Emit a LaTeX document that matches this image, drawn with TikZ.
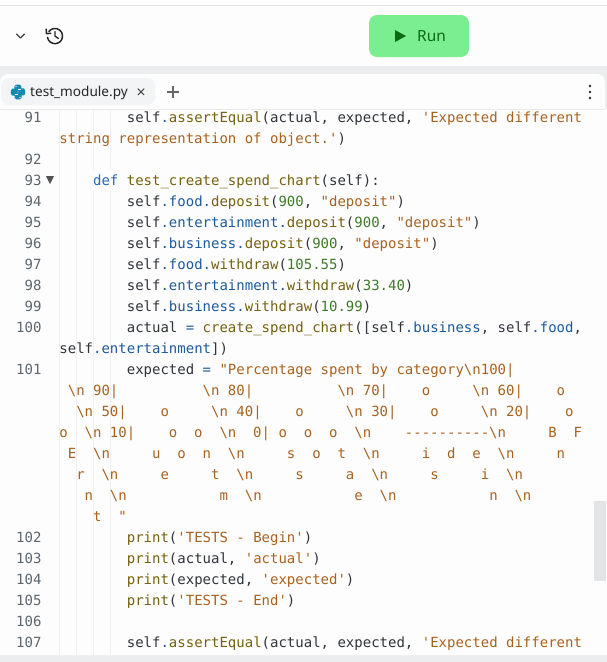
\documentclass[tikz,border=0pt]{standalone}
\usepackage{fontspec}
\setmainfont{Noto Sans}
\setmonofont{DejaVu Sans Mono}
\definecolor{pagebg}{HTML}{FDFDFD}
\definecolor{bandgray}{HTML}{EBEDEF}
\definecolor{topline}{HTML}{E4E4E4}
\definecolor{tabbg}{HTML}{F2F4F6}
\definecolor{guide}{HTML}{F0F0F0}
\definecolor{lnum}{HTML}{5B6670}
\definecolor{cplain}{HTML}{30343A}
\definecolor{cblue}{HTML}{1D5A9C}
\definecolor{cdef}{HTML}{2468B8}
\definecolor{cfn}{HTML}{75610F}
\definecolor{cnum}{HTML}{3F7A2A}
\definecolor{cstr}{HTML}{A8621F}
\definecolor{runbg}{HTML}{7CEE92}
\definecolor{rundark}{HTML}{0A6B12}
\definecolor{pylogo}{HTML}{1289AE}
\definecolor{scroll}{HTML}{E3E4E6}
\newcommand\Kf[1]{\textcolor{cfn}{#1}}
\newcommand\Kp[1]{\textcolor{cblue}{#1}}
\newcommand\Kn[1]{\textcolor{cnum}{#1}}
\newcommand\Ks[1]{\textcolor{cstr}{#1}}
\newcommand\Kd[1]{\textcolor{cdef}{#1}}
\newcommand\Nl{\textbackslash n}
\newcommand\Sf{self\Kp{.}}
\newcommand\codeline[3]{\node[codetext] at ({59.4+#1*8.43},{122+#2*21}) {#3};}
\newcommand\lno[2]{\node[numtext] at (41.5,{122+#1*21}) {#2};}
\tikzset{
  codetext/.style={anchor=base west,inner sep=0pt,outer sep=0pt,font=\ttfamily\fontsize{14}{14}\selectfont,text=cplain},
  numtext/.style={anchor=base east,inner sep=0pt,outer sep=0pt,font=\ttfamily\fontsize{14}{14}\selectfont,text=lnum},
  iconline/.style={draw=#1,line width=1.5pt,line cap=round,line join=round,fill=none},
  guideline/.style={draw=guide,line width=1pt}
}
\begin{document}
\begin{tikzpicture}[x=1pt,y=-1pt]
\useasboundingbox (0,0) rectangle (607,662);
\clip (0,0) rectangle (607,662);
\fill[pagebg] (0,0) rectangle (607,662);
\fill[white] (0,0) rectangle (607,4.5);
\fill[topline] (0,4.5) rectangle (607,6);
% bands
\fill[bandgray] (0,66) rectangle (607,662);
\fill[pagebg] (0,655) -- (0,82) arc[start angle=180,end angle=270,radius=8] -- (597,74) arc[start angle=270,end angle=360,radius=8] -- (605,655) -- cycle;
\fill[pagebg] (605,109) rectangle (607,655);
% header
\draw[iconline=black!75,line width=1.2pt] (16.5,34) -- (20.5,38) -- (24.5,34);
\draw[iconline=black!85] (48.9,31.5) arc[start angle=-143,end angle=170,radius=7.6];
\draw[iconline=black!85] (46.2,29.2) -- (46.4,33.6) -- (50.8,33.4);
\draw[iconline=black!85,line width=1.3pt] (55,31.5) -- (55,36.2) -- (58.5,38.5);
\fill[runbg,rounded corners=8pt] (369,15) rectangle (469,57);
\fill[rundark] (395,30) -- (406,36) -- (395,42) -- cycle;
\node[anchor=base west,inner sep=0pt,text=rundark,font=\fontsize{15.4}{16}\selectfont] (runlabel) at (417,41.5) {Run};
% tabs
\fill[tabbg,rounded corners=8pt] (1,78) rectangle (155,105);
\draw[draw=black!8,line width=1pt] (0,109) -- (605,109);
\begin{scope}[shift={(18,92)}]
  \fill[pylogo,rounded corners=1.6pt] (-3.6,-7.4) rectangle (3.4,-0.6);
  \fill[pylogo,rounded corners=1.6pt] (-7.2,-3.4) rectangle (-0.3,3.6);
  \fill[pylogo,rounded corners=1.6pt] (-3.4,0.6) rectangle (3.6,7.4);
  \fill[pylogo,rounded corners=1.6pt] (0.3,-3.6) rectangle (7.2,3.4);
  \fill[tabbg] (-0.2,-3.2) rectangle (3.4,-2.2);
  \fill[tabbg] (-3.4,2.2) rectangle (0.2,3.2);
  \fill[tabbg] (-2,-5.6) circle (0.7);
  \fill[tabbg] (2,5.6) circle (0.7);
\end{scope}
\node[anchor=base west,inner sep=0pt,text=black!85,font=\fontsize{13.6}{15}\selectfont] (tabname) at (30,96) {test\_module.py};
\draw[iconline=black!70,line width=1.1pt] (138,88.8) -- (144,94.8);
\draw[iconline=black!70,line width=1.1pt] (144,88.8) -- (138,94.8);
\draw[iconline=black!60,line width=1.4pt,line cap=butt] (167,92) -- (179,92);
\draw[iconline=black!60,line width=1.4pt,line cap=butt] (173,86) -- (173,98);
\foreach \dy in {86,92,98} \fill[black!85] (590,\dy) circle (1.4);
% indent guides
\foreach \gx in {59.5,76.5,93.3,110} \draw[guideline] (\gx,110) -- (\gx,655);
\fill[pagebg] (92.5,170) rectangle (111,190);
% fold marker
\fill[black!68] (46,176) -- (54,176) -- (50,184) -- cycle;
% scrollbar
\fill[scroll] (594,501) rectangle (606,581);
% line numbers
\lno{0}{91}\lno{2}{92}\lno{3}{93}\lno{4}{94}\lno{5}{95}\lno{6}{96}\lno{7}{97}\lno{8}{98}\lno{9}{99}\lno{10}{100}\lno{12}{101}
\lno{20}{102}\lno{21}{103}\lno{22}{104}\lno{23}{105}\lno{24}{106}\lno{25}{107}
% code
\codeline{8}{0}{\Sf\Kf{assertEqual}(actual, expected, \Ks{'Expected different}}
\codeline{0}{1}{\Ks{string representation of object.'})}
\codeline{4}{3}{\Kd{def} \Kf{test\_create\_spend\_chart}(self):}
\codeline{8}{4}{\Sf\Kp{food}\Kp{.}\Kf{deposit}(\Kn{900}, \Ks{"deposit"})}
\codeline{8}{5}{\Sf\Kp{entertainment}\Kp{.}\Kf{deposit}(\Kn{900}, \Ks{"deposit"})}
\codeline{8}{6}{\Sf\Kp{business}\Kp{.}\Kf{deposit}(\Kn{900}, \Ks{"deposit"})}
\codeline{8}{7}{\Sf\Kp{food}\Kp{.}\Kf{withdraw}(\Kn{105.55})}
\codeline{8}{8}{\Sf\Kp{entertainment}\Kp{.}\Kf{withdraw}(\Kn{33.40})}
\codeline{8}{9}{\Sf\Kp{business}\Kp{.}\Kf{withdraw}(\Kn{10.99})}
\codeline{8}{10}{actual \Kp{=} \Kf{create\_spend\_chart}([\Sf\Kp{business}, \Sf\Kp{food},}
\codeline{0}{11}{\Sf\Kp{entertainment}])}
\codeline{8}{12}{expected \Kp{=} \Ks{"Percentage spent by category\Nl 100|}}
\codeline{0}{13}{\Ks{~\Nl{}~90|~~~~~~~~~~\Nl{}~80|~~~~~~~~~~\Nl{}~70|~~~~o~~~~~\Nl{}~60|~~~~o}}
\codeline{0}{14}{\Ks{~~\Nl{}~50|~~~~o~~~~~\Nl{}~40|~~~~o~~~~~\Nl{}~30|~~~~o~~~~~\Nl{}~20|~~~~o}}
\codeline{0}{15}{\Ks{o~~\Nl{}~10|~~~~o~~o~~\Nl{}~~0|~o~~o~~o~~\Nl{}~~~~----------\Nl{}~~~~~B~~F}}
\codeline{0}{16}{\Ks{~E~~\Nl{}~~~~~u~~o~~n~~\Nl{}~~~~~s~~o~~t~~\Nl{}~~~~~i~~d~~e~~\Nl{}~~~~~n}}
\codeline{0}{17}{\Ks{~~r~~\Nl{}~~~~~e~~~~~t~~\Nl{}~~~~~s~~~~~a~~\Nl{}~~~~~s~~~~~i~~\Nl}}
\codeline{0}{18}{\Ks{~~~n~~\Nl{}~~~~~~~~~~~m~~\Nl{}~~~~~~~~~~~e~~\Nl{}~~~~~~~~~~~n~~\Nl}}
\codeline{0}{19}{\Ks{~~~~t~~"}}
\codeline{8}{20}{\Kf{print}(\Ks{'TESTS - Begin'})}
\codeline{8}{21}{\Kf{print}(actual, \Ks{'actual'})}
\codeline{8}{22}{\Kf{print}(expected, \Ks{'expected'})}
\codeline{8}{23}{\Kf{print}(\Ks{'TESTS - End'})}
\codeline{8}{25}{\Sf\Kf{assertEqual}(actual, expected, \Ks{'Expected different}}
\end{tikzpicture}
\end{document}
